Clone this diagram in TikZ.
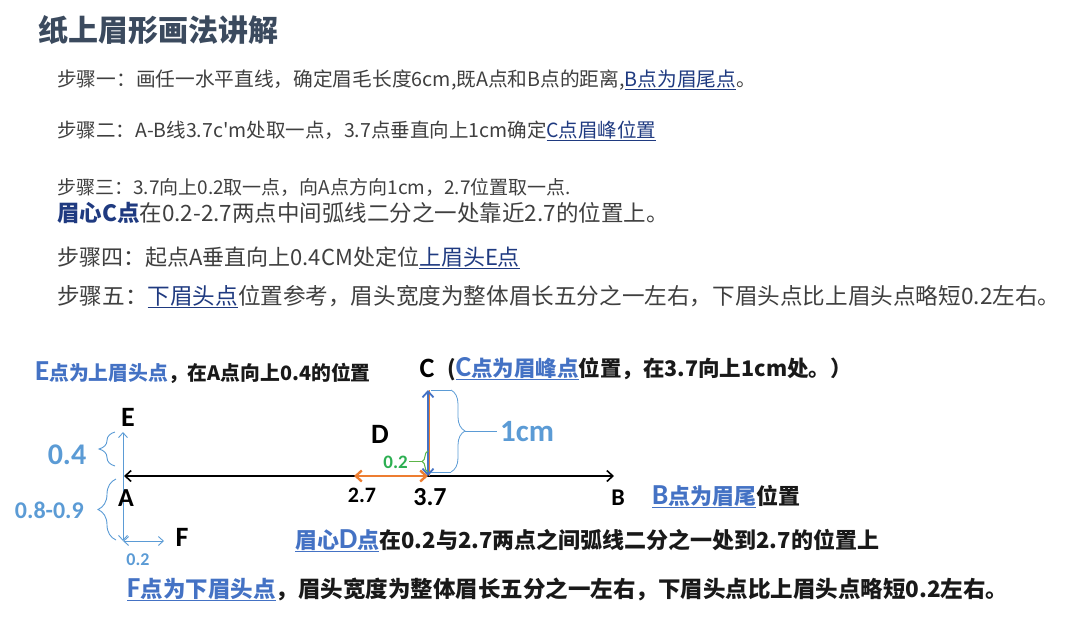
\documentclass[tikz,border=0pt]{standalone}
\usepackage{fontspec}
\setmainfont{Noto Sans CJK SC}
\newfontfamily\lat{Carlito}
\usetikzlibrary{arrows.meta,decorations.pathreplacing}

\definecolor{titlecol}{HTML}{3B4A5E}
\definecolor{stepgray}{HTML}{3F3F3F}
\definecolor{linkblue}{HTML}{1F3A80}
\definecolor{accblue}{HTML}{4472C4}
\definecolor{lightblue}{HTML}{5B9BD5}
\definecolor{orangeln}{HTML}{ED7D31}
\definecolor{greenln}{HTML}{5DB54A}
\definecolor{greentx}{HTML}{2DAF52}

\newcommand{\link}[1]{{\color{linkblue}\underline{#1}}}
\newcommand{\dlink}[1]{{\color{accblue}\underline{#1}}}
\newcommand{\bigch}[1]{{\lat\bfseries\fontsize{29}{29}\selectfont #1}}

\tikzset{
  steptext/.style={anchor=base west, inner sep=0pt, text=stepgray,
    font=\fontsize{#1}{24}\selectfont},
  captext/.style={anchor=base west, inner sep=0pt, text=black!90,
    font=\bfseries\fontsize{#1}{24}\selectfont},
  ptlabel/.style={inner sep=0pt, font=\lat\bfseries\fontsize{28}{28}\selectfont},
  numlabel/.style={inner sep=0pt, font=\lat\bfseries\fontsize{#1}{#1}\selectfont},
  abbarb/.tip={Straight Barb[length=6pt,width=11pt]},
  thinbarb/.tip={Straight Barb[length=5pt,width=9pt]},
  bracepath/.style={decorate, decoration={brace, amplitude=#1}}
}

\begin{document}
\begin{tikzpicture}[x=1pt, y=-1pt]
  \useasboundingbox (0,0) rectangle (1080,635);

  % heading and the five steps
  \node[anchor=base west, inner sep=0pt, text=titlecol, font=\bfseries\fontsize{30}{32}\selectfont] (title) at (38,41) {纸上眉形画法讲解};
  \node[steptext=19.7] (s1) at (57,86) {步骤一：画任一水平直线，确定眉毛长度6cm,既A点和B点的距离,\link{B点为眉尾点}。};
  \node[steptext=19.5] (s2) at (57,137) {步骤二：A-B线3.7c\textquotesingle m处取一点，3.7点垂直向上1cm确定\link{C点眉峰位置}};
  \node[steptext=19] (s3) at (57,194) {步骤三：3.7向上0.2取一点，向A点方向1cm，2.7位置取一点.};
  \node[steptext=22.5] (s3b) at (57,221) {{\color{linkblue}\bfseries 眉心C点}在0.2-2.7两点中间弧线二分之一处靠近2.7的位置上。};
  \node[steptext=22] (s4) at (57,265) {步骤四：起点A垂直向上0.4CM处定位\link{上眉头E点}};
  \node[steptext=22.6] (s5) at (57,304) {步骤五：\link{下眉头点}位置参考，眉头宽度为整体眉长五分之一左右，下眉头点比上眉头点略短0.2左右。};

  % points on the line
  \coordinate (A) at (124,476);
  \coordinate (B) at (614,476);
  \coordinate (P27) at (354,476);
  \coordinate (P37) at (428,476);
  \coordinate (C) at (428,390);
  \coordinate (E) at (123,432);
  \coordinate (Fd) at (123,541);
  \coordinate (F) at (164,541);

  % main line A-B
  \draw[line width=1.6pt, abbarb-abbarb] (A) -- (B);

  % E / F measures at A
  \draw[lightblue, line width=0.9pt, thinbarb-thinbarb] (E) -- (Fd);
  \draw[lightblue, line width=0.9pt, thinbarb-thinbarb] (Fd) -- (F);
  \draw[lightblue, line width=0.9pt, bracepath=16pt] (115,466) -- (115,432);
  \draw[lightblue, line width=0.9pt, bracepath=18pt] (116,540) -- (116,479);

  % 2.7 - 3.7 and the peak C
  \draw[orangeln, line width=2.4pt, abbarb-abbarb] (P27) -- (P37);
  \draw[orangeln, line width=0.8pt] ([xshift=1.5pt]P37) -- ([xshift=1.5pt]C);
  \draw[accblue, line width=1.8pt, abbarb-abbarb] (P37) -- (C);
  \draw[greenln, line width=1pt, bracepath=6pt] (428,472) -- (428,451);
  \draw[greenln, line width=1pt] (422,461.5) -- (409,461.5);
  \draw[lightblue, line width=0.8pt] (431,390) -- (451,390) (431,472) -- (451,472);
  \draw[lightblue, line width=0.8pt, bracepath=14pt] (451,390) -- (451,472);
  \draw[lightblue, line width=0.8pt] (465,431) -- (497,431);

  % point labels
  \node[ptlabel] (lE) at (128,417) {E};
  \node[ptlabel, font=\lat\bfseries\fontsize{26}{26}\selectfont] (lA) at (126,498) {A};
  \node[ptlabel, font=\lat\bfseries\fontsize{24}{24}\selectfont] (lB) at (618,498) {B};
  \node[ptlabel] (lF) at (182,537) {F};
  \node[ptlabel] (lD) at (380,434) {D};
  \node[ptlabel] (lC) at (427,368) {C};
  \node[numlabel=22] (l27) at (362,495) {2.7};
  \node[numlabel=26] (l37) at (430,497) {3.7};

  % measures
  \node[numlabel=30, text=lightblue] (m04) at (67,455) {0.4};
  \node[numlabel=24, text=lightblue, anchor=east] (m089) at (84,510) {0.8-0.9};
  \node[numlabel=18, text=lightblue] (m02) at (138,560) {0.2};
  \node[numlabel=19, text=greentx, anchor=east] (m02g) at (408,462) {0.2};
  \node[numlabel=31, text=lightblue, anchor=west] (m1cm) at (500,432) {1cm};

  % captions
  \node[captext=19.8] (capE) at (35,380) {{\color{accblue}\bigch{E}点为上眉头点}，在A点向上0.4的位置};
  \node[captext=21.5] (capC) at (447,376) {(\dlink{\bigch{C}点为眉峰点}位置，在3.7向上1cm处。）};
  \node[captext=22] (capB) at (652,504) {\dlink{\bigch{B}点为眉尾}位置};
  \node[captext=22] (capD) at (295,548) {\dlink{眉心\bigch{D}点}在0.2与2.7两点之间弧线二分之一处到2.7的位置上};
  \node[captext=22.5] (capF) at (127,597) {\dlink{\bigch{F}点为下眉头点}，眉头宽度为整体眉长五分之一左右，下眉头点比上眉头点略短0.2左右。};
\end{tikzpicture}
\end{document}
